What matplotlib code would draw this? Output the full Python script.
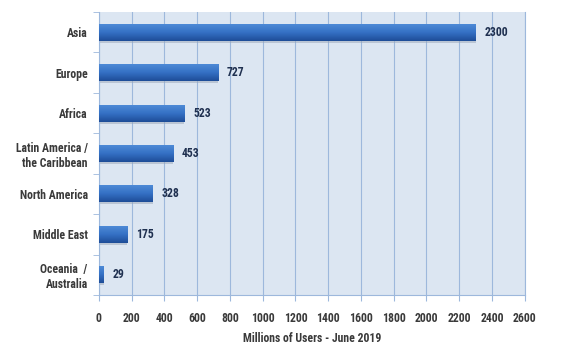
import matplotlib
matplotlib.use("Agg")
import matplotlib.pyplot as plt
import numpy as np
from matplotlib.colors import LinearSegmentedColormap

# data
regions = ["Asia", "Europe", "Africa", "Latin America /\nthe Caribbean",
           "North America", "Middle East", "Oceania  /\nAustralia"]
users = [2300, 727, 523, 453, 328, 175, 29]
xticks = list(range(0, 2601, 200))

plt.rcParams['font.family'] = ['Roboto Condensed', 'PT Sans Narrow', 'DejaVu Sans']

fig = plt.figure(figsize=(5.71, 3.52), dpi=100)
ax = fig.add_axes([0.173, 0.162, 0.746, 0.804])
ax.set_facecolor("#dce6f2")

grad = LinearSegmentedColormap.from_list("bar", ["#4d8ad6", "#3470c4", "#1e4d98"])
ypos = np.arange(len(regions))
h = 0.42
for y, v in zip(ypos, users):
    # soft shadow under the bar
    ax.barh(y + 0.05, v, height=h, left=0, color="#9aa6b8", alpha=0.5, zorder=2)
    img = np.linspace(0, 1, 50).reshape(-1, 1)
    ax.imshow(img, cmap=grad, aspect="auto", zorder=3,
              extent=(0, v, y + h / 2, y - h / 2), interpolation="bilinear")
    ax.text(v + 55, y, str(v), va="center", ha="left", fontsize=8.5,
            fontweight="bold", color="#1f3050", zorder=4)

ax.set_ylim(len(regions) - 0.5, -0.5)
ax.set_xlim(0, 2600)
ax.set_xticks(xticks)
ax.set_xticklabels([str(t) for t in xticks], fontsize=8.5, fontweight="bold", color="#3a3a3a")
ax.set_yticks(ypos)
ax.set_yticklabels(regions, fontsize=8.5, fontweight="bold", color="#3a3a3a", linespacing=1.2)
ax.tick_params(axis="y", length=0, pad=8)
ax.set_yticks(np.arange(-0.5, len(regions), 1), minor=True)
ax.tick_params(axis="y", which="minor", length=4, color="#9db8dc", direction="out")
ax.tick_params(axis="x", length=4, color="#9db8dc", pad=8)
ax.grid(axis="x", color="#9db8dc", linewidth=0.8, zorder=1)
ax.set_axisbelow(True)
for side in ["left", "bottom", "right"]:
    ax.spines[side].set_color("#9db8dc")
ax.spines["top"].set_visible(False)

ax.set_xlabel("Millions of Users - June 2019", fontsize=8.5, fontweight="bold",
              color="#3a3a3a", labelpad=5)

fig.savefig("out.png", dpi=100)
